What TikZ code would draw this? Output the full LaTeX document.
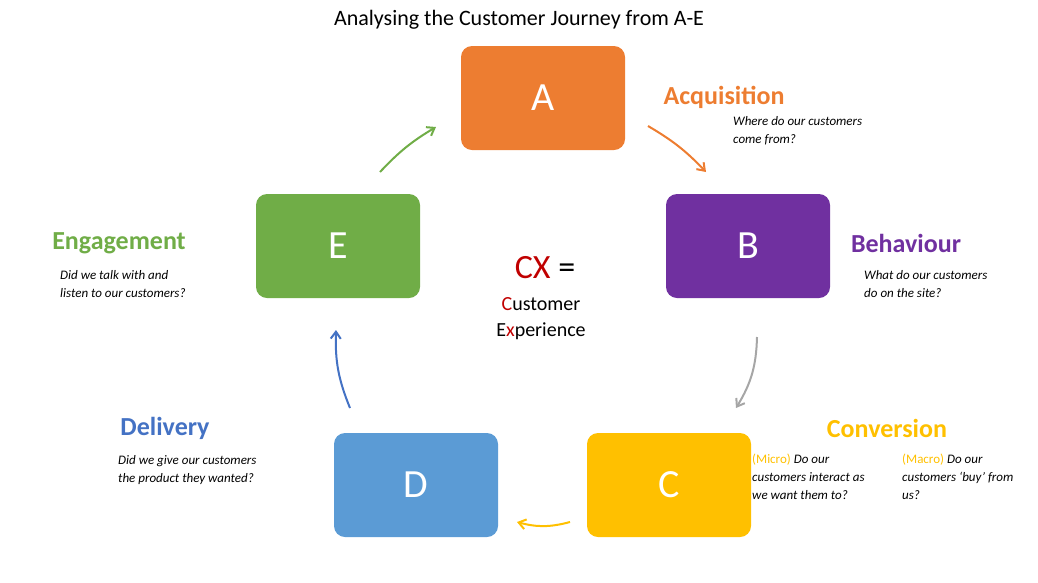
\documentclass[tikz,border=0pt]{standalone}
\usepackage{fontspec}
\setmainfont{Carlito}
\usetikzlibrary{arrows.meta}
\definecolor{cA}{HTML}{ED7D31}
\definecolor{cB}{HTML}{7030A0}
\definecolor{cC}{HTML}{FFC000}
\definecolor{cD}{HTML}{5B9BD5}
\definecolor{cE}{HTML}{70AD47}
\definecolor{cDt}{HTML}{4472C4}
\definecolor{cG}{HTML}{A6A6A6}
\definecolor{cxr}{HTML}{C00000}
\begin{document}
\begin{tikzpicture}[x=1pt,y=-1pt,
  box/.style={rounded corners=11pt,minimum width=164pt,minimum height=104pt,inner sep=0pt,text=white,font=\fontsize{40}{40}\selectfont},
  head/.style={font=\fontsize{26}{28}\selectfont\bfseries},
  desc/.style={font=\fontsize{13}{18}\selectfont\itshape,align=left,anchor=north west,inner sep=0pt},
  arr/.style={line width=2pt,-{Straight Barb[length=7pt,width=10pt]}}]
\useasboundingbox (0,0) rectangle (1038,582);
\node[font=\fontsize{22}{24}\selectfont] (title) at (519,20) {Analysing the Customer Journey from A-E};
\node[box,fill=cA] (A) at (543,98) {A};
\node[box,fill=cB] (B) at (748,246) {B};
\node[box,fill=cC] (C) at (669,485) {C};
\node[box,fill=cD] (D) at (416,485) {D};
\node[box,fill=cE] (E) at (338,246) {E};
\node[head,text=cA] (hA) at (724,97) {Acquisition};
\node[desc] (tA) at (733,116) {Where do our customers\\come from?};
\node[head,text=cB] (hB) at (906,243) {Behaviour};
\node[desc] (tB) at (864,270) {What do our customers\\do on the site?};
\node[head,text=cC] (hC) at (887,428) {Conversion};
\node[desc] (tC1) at (752,454) {\textcolor{cC}{\upshape(Micro)} Do our\\customers interact as\\we want them to?};
\node[desc] (tC2) at (902,454) {\textcolor{cC}{\upshape(Macro)} Do our\\customers `buy' from\\us?};
\node[head,text=cDt] (hD) at (165,428) {Delivery};
\node[desc] (tD) at (118,455) {Did we give our customers\\the product they wanted?};
\node[head,text=cE] (hE) at (119,243) {Engagement};
\node[desc] (tE) at (60,270) {Did we talk with and\\listen to our customers?};
\node[font=\fontsize{34}{36}\selectfont] (cx) at (545,268) {\textcolor{cxr}{CX} =};
\node[font=\fontsize{20}{26}\selectfont,align=center] (cust) at (541,319) {\textcolor{cxr}{C}ustomer\\E\textcolor{cxr}{x}perience};
\coordinate (a1) at (648,126); \coordinate (a2) at (706,172);
\coordinate (b1) at (757,337); \coordinate (b2) at (736,408);
\coordinate (c1) at (570,522); \coordinate (c2) at (517,522);
\coordinate (d1) at (350,408); \coordinate (d2) at (336,330);
\coordinate (e1) at (380,172); \coordinate (e2) at (436,127);
\draw[arr,cA] (a1) to[bend left=8] (a2);
\draw[arr,cG] (b1) to[bend left=15] (b2);
\draw[arr,cC] (c1) to[bend left=15] (c2);
\draw[arr,cDt] (d1) to[bend left=12] (d2);
\draw[arr,cE] (e1) to[bend left=8] (e2);
\end{tikzpicture}
\end{document}
